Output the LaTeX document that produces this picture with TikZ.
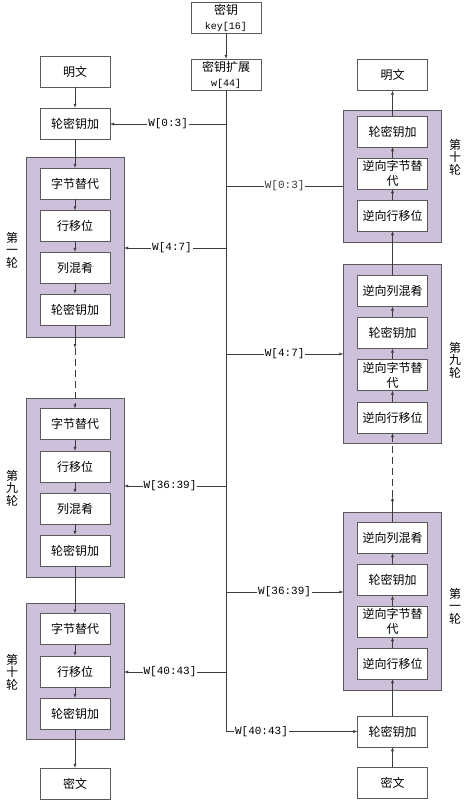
\documentclass[tikz,border=0pt]{standalone}
\usepackage{fontspec}
\setmainfont{Noto Sans CJK SC}
\setmonofont{Liberation Mono}
\usetikzlibrary{positioning,arrows.meta}
\definecolor{lavender}{RGB}{204,192,218}
\definecolor{boxgrey}{RGB}{90,90,90}
\definecolor{linegrey}{RGB}{60,60,60}

\begin{document}
\begin{tikzpicture}[x=1pt,y=-1pt,
  stepbox/.style={draw=boxgrey, fill=white, minimum width=70pt, minimum height=31pt,
    inner sep=0pt, align=center, font=\fontsize{12}{15}\selectfont},
  roundbox/.style={draw=boxgrey, fill=lavender, minimum width=98pt, inner sep=0pt},
  roundname/.style={align=center, inner sep=0pt, font=\fontsize{12}{12.5}\selectfont},
  keylabel/.style={fill=white, inner sep=1pt, font=\ttfamily\fontsize{11}{12}\selectfont},
  flow/.style={draw=linegrey, -{Latex[length=4pt,width=3pt]}},
  gapline/.style={dash pattern=on 7pt off 4pt}]
% Basic parameters for the columns
\def\xenc{75}
\def\xkey{226}
\def\xdec{392.5}

\useasboundingbox (0,0) rectangle (464,800);

% Encryption column
\node[stepbox] (plainL) at (\xenc,71.5) {明文};
\node[stepbox] (addL0) at (\xenc,123.5) {轮密钥加};

\node[roundbox, minimum height=180pt] (encR1) at (\xenc,247) {};
\node[stepbox] (subL1) at (\xenc,183.5) {字节替代};
\node[stepbox] (shiftL1) at (\xenc,226) {行移位};
\node[stepbox] (mixL1) at (\xenc,267.5) {列混肴};
\node[stepbox] (addL1) at (\xenc,309.5) {轮密钥加};
\coordinate (gapL) at (\xenc,348);

\node[roundbox, minimum height=179pt] (encR9) at (\xenc,487.5) {};
\node[stepbox] (subL9) at (\xenc,424) {字节替代};
\node[stepbox] (shiftL9) at (\xenc,466.5) {行移位};
\node[stepbox] (mixL9) at (\xenc,508.5) {列混肴};
\node[stepbox] (addL9) at (\xenc,550.5) {轮密钥加};

\node[roundbox, minimum height=136pt] (encR10) at (\xenc,671) {};
\node[stepbox] (subL10) at (\xenc,629) {字节替代};
\node[stepbox] (shiftL10) at (\xenc,671.5) {行移位};
\node[stepbox] (addL10) at (\xenc,713.5) {轮密钥加};

\node[stepbox] (cipherL) at (\xenc,783.5) {密文};

% Key expansion
\node[stepbox] (key) at (\xkey,17.5) {密钥\\{\ttfamily\fontsize{10}{12}\selectfont key[16]}};
\node[stepbox] (expand) at (\xkey,74.5) {密钥扩展\\{\ttfamily\fontsize{10}{12}\selectfont w[44]}};

% Decryption column
\node[stepbox] (plainR) at (\xdec,75) {明文};

\node[roundbox, minimum height=132pt] (decR10) at (\xdec,176) {};
\node[stepbox] (addR10) at (\xdec,131.5) {轮密钥加};
\node[stepbox] (isubR10) at (\xdec,173.5) {逆向字节替\\代};
\node[stepbox] (ishiftR10) at (\xdec,215.5) {逆向行移位};

\node[roundbox, minimum height=179pt] (decR9) at (\xdec,353.5) {};
\node[stepbox] (imixR9) at (\xdec,291) {逆向列混肴};
\node[stepbox] (addR9) at (\xdec,333) {轮密钥加};
\node[stepbox] (isubR9) at (\xdec,375) {逆向字节替\\代};
\node[stepbox] (ishiftR9) at (\xdec,417.5) {逆向行移位};
\coordinate (gapR) at (\xdec,497);

\node[roundbox, minimum height=178pt] (decR1) at (\xdec,601) {};
\node[stepbox] (imixR1) at (\xdec,537.5) {逆向列混肴};
\node[stepbox] (addR1) at (\xdec,580) {轮密钥加};
\node[stepbox] (isubR1) at (\xdec,621.5) {逆向字节替\\代};
\node[stepbox] (ishiftR1) at (\xdec,663.5) {逆向行移位};

\node[stepbox] (addR0) at (\xdec,731.5) {轮密钥加};
\node[stepbox] (cipherR) at (\xdec,783) {密文};

% Round names
\node[roundname] (nameL1) at (12,250) {第\\一\\轮};
\node[roundname] (nameL9) at (12,488) {第\\九\\轮};
\node[roundname] (nameL10) at (12,672) {第\\十\\轮};
\node[roundname] (nameR10) at (455,157) {第\\十\\轮};
\node[roundname] (nameR9) at (455,360) {第\\九\\轮};
\node[roundname] (nameR1) at (455,606) {第\\一\\轮};

% Data flow
\foreach \a/\b in {plainL/addL0, addL0/subL1, subL1/shiftL1, shiftL1/mixL1, mixL1/addL1,
    subL9/shiftL9, shiftL9/mixL9, mixL9/addL9, addL9/subL10,
    subL10/shiftL10, shiftL10/addL10, addL10/cipherL}
  \draw[flow] (\a) -- (\b);
\draw[flow] (addL1) -- (gapL);
\draw[flow, gapline] (gapL) -- (subL9);

\foreach \a/\b in {cipherR/addR0, addR0/ishiftR1, ishiftR1/isubR1, isubR1/addR1, addR1/imixR1,
    ishiftR9/isubR9, isubR9/addR9, addR9/imixR9, imixR9/ishiftR10,
    ishiftR10/isubR10, isubR10/addR10, addR10/plainR}
  \draw[flow] (\a) -- (\b);
\draw[flow] (imixR1) -- (gapR);
\draw[flow, gapline] (gapR) -- (ishiftR9);

% Round keys
\coordinate (kL0) at (\xkey,124);
\coordinate (kR10) at (\xkey,186);
\coordinate (kL1) at (\xkey,248);
\coordinate (kR9) at (\xkey,354);
\coordinate (kL9) at (\xkey,486);
\coordinate (kR1) at (\xkey,592);
\coordinate (kL10) at (\xkey,672);
\coordinate (kR0) at (\xkey,731.5);

\draw[flow] (key) -- (expand);
\draw[linegrey] (expand.south) -- (kR0);

\draw[flow] (kL0) -- node[keylabel, pos=0.5] {W[0:3]} (kL0 -| addL0.east);
\draw[flow] (kL1) -- node[keylabel, pos=0.53] {W[4:7]} (kL1 -| encR1.east);
\draw[flow] (kL9) -- node[keylabel, pos=0.55] {W[36:39]} (kL9 -| encR9.east);
\draw[flow] (kL10) -- node[keylabel, pos=0.55] {W[40:43]} (kL10 -| encR10.east);

\draw[linegrey] (kR10) -- node[keylabel, pos=0.5] {W[0:3]} (kR10 -| decR10.west);
\draw[flow] (kR9) -- node[keylabel, pos=0.5] {W[4:7]} (kR9 -| decR9.west);
\draw[flow] (kR1) -- node[keylabel, pos=0.5] {W[36:39]} (kR1 -| decR1.west);
\draw[flow] (kR0) -- node[keylabel, pos=0.27] {W[40:43]} (addR0.west);
\end{tikzpicture}
\end{document}
